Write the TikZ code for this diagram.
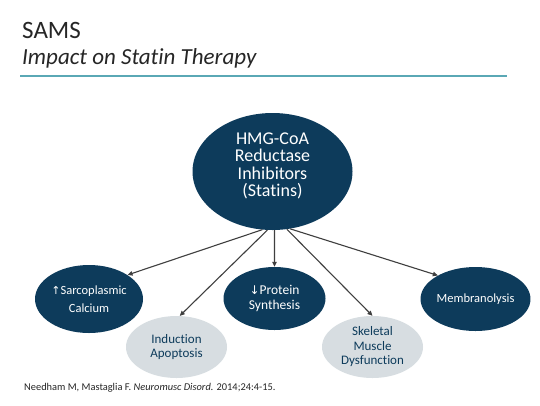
\documentclass[tikz,border=0pt]{standalone}
\usepackage{fontspec}
\setmainfont{Carlito}[RawFeature={-liga}]
\newfontfamily\symfont{DejaVu Sans}
\usetikzlibrary{shapes.geometric,arrows.meta}
\definecolor{navy}{HTML}{0D3B5B}
\definecolor{pale}{HTML}{D7DDE1}
\definecolor{teal}{HTML}{5AA8B5}
\definecolor{arrowgray}{HTML}{3F3F3F}
\definecolor{txt}{HTML}{262626}
\tikzset{
  dark/.style={ellipse, fill=navy, text=white, inner sep=0pt, align=center},
  light/.style={ellipse, fill=pale, text=navy, inner sep=0pt, align=center},
  conn/.style={draw=arrowgray, line width=1.1pt, -{Triangle[length=5pt,width=4.5pt]}},
}
\begin{document}
\begin{tikzpicture}[x=1pt,y=-1pt]
\useasboundingbox[fill=white] (0,0) rectangle (540,405);
% title
\node[anchor=base west, inner sep=0pt, text=txt, font=\fontsize{25}{29}\selectfont] (title) at (22,38) {SAMS};
\node[anchor=base west, inner sep=0pt, text=txt, font=\fontsize{23}{27}\selectfont\itshape] (sub) at (22,64) {Impact on Statin Therapy};
\coordinate (l1) at (20,76);
\coordinate (l2) at (507,76);
\draw[teal, line width=1.2pt] (l1) -- (l2);
% central
\node[ellipse, fill=navy, minimum width=160pt, minimum height=117pt] (c) at (272.5,171.5) {};
\node[text=white, align=center, inner sep=0pt, font=\fontsize{18}{17.5}\selectfont] (ct) at (272.5,166) {HMG-CoA\\Reductase\\Inhibitors\\(Statins)};
% outcomes
\node[dark, minimum width=108pt, minimum height=68pt, font=\fontsize{12.5}{18}\selectfont] (sc) at (89,299) {{\symfont\fontsize{11}{18}\selectfont ↑}Sarcoplasmic\\Calcium};
\node[light, minimum width=101pt, minimum height=62pt, font=\fontsize{13}{14.5}\selectfont] (ap) at (176.5,347) {Induction\\Apoptosis};
\node[dark, minimum width=102pt, minimum height=63pt, font=\fontsize{13.5}{14.5}\selectfont] (ps) at (274.5,298.5) {{\symfont\fontsize{12}{14}\selectfont ↓}Protein\\Synthesis};
\node[light, minimum width=101pt, minimum height=62pt, font=\fontsize{13}{14.5}\selectfont] (sk) at (372.5,347) {Skeletal\\Muscle\\Dysfunction};
\node[dark, minimum width=106pt, minimum height=64pt, font=\fontsize{12.5}{14}\selectfont] (mb) at (475.5,299) {Membranolysis};
% connectors
\draw[conn] (c.260) -- (sc.32);
\draw[conn] (c.265) -- (ap.84);
\draw[conn] (c.272) -- (ps.north);
\draw[conn] (c.284) -- (sk.north);
\draw[conn] (c.287) -- (mb.148);
% citation
\node[anchor=base west, inner sep=0pt, text=txt, font=\fontsize{10.4}{12}\selectfont] (cite) at (24,390) {Needham M, Mastaglia F. \textit{Neuromusc Disord.} 2014;24:4-15.};
\end{tikzpicture}
\end{document}
